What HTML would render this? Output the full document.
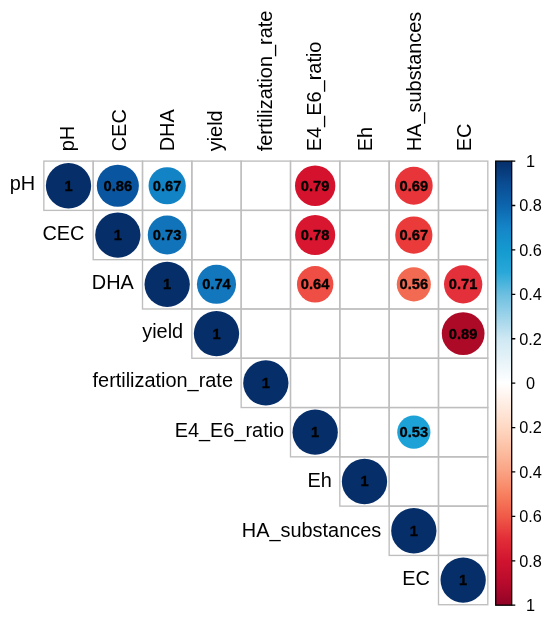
<!DOCTYPE html><html><head><meta charset="utf-8"><style>html,body{margin:0;padding:0;background:#fff;}svg{display:block;filter:blur(0.4px);}text{font-family:"Liberation Sans",Arial,sans-serif;}</style></head><body>
<svg width="550" height="621" viewBox="0 0 550 621">
<rect width="550" height="621" fill="#fff"/>
<defs><linearGradient id="cb" x1="0" y1="0" x2="0" y2="1">
<stop offset="0.0%" stop-color="#062E69"/>
<stop offset="5.0%" stop-color="#0A4C92"/>
<stop offset="10.0%" stop-color="#0C65AD"/>
<stop offset="15.0%" stop-color="#1585C8"/>
<stop offset="20.0%" stop-color="#149ACF"/>
<stop offset="25.0%" stop-color="#28A8D8"/>
<stop offset="30.0%" stop-color="#6CBFE0"/>
<stop offset="40.0%" stop-color="#CFE8F3"/>
<stop offset="50.0%" stop-color="#FFFFFF"/>
<stop offset="60.0%" stop-color="#FED8C3"/>
<stop offset="65.0%" stop-color="#FCBFA2"/>
<stop offset="70.0%" stop-color="#FAA283"/>
<stop offset="75.0%" stop-color="#F7805F"/>
<stop offset="80.0%" stop-color="#F05A48"/>
<stop offset="85.0%" stop-color="#E32E38"/>
<stop offset="90.0%" stop-color="#D0142F"/>
<stop offset="95.0%" stop-color="#B80A2C"/>
<stop offset="100.0%" stop-color="#900326"/>
</linearGradient></defs>
<g fill="none" stroke="#BEBEBE" stroke-width="1.35"><rect x="43.85" y="161.10" width="49.33" height="49.29"/><rect x="93.18" y="161.10" width="49.33" height="49.29"/><rect x="142.51" y="161.10" width="49.33" height="49.29"/><rect x="191.84" y="161.10" width="49.33" height="49.29"/><rect x="241.17" y="161.10" width="49.33" height="49.29"/><rect x="290.50" y="161.10" width="49.33" height="49.29"/><rect x="339.83" y="161.10" width="49.33" height="49.29"/><rect x="389.16" y="161.10" width="49.33" height="49.29"/><rect x="438.49" y="161.10" width="49.33" height="49.29"/><rect x="93.18" y="210.39" width="49.33" height="49.29"/><rect x="142.51" y="210.39" width="49.33" height="49.29"/><rect x="191.84" y="210.39" width="49.33" height="49.29"/><rect x="241.17" y="210.39" width="49.33" height="49.29"/><rect x="290.50" y="210.39" width="49.33" height="49.29"/><rect x="339.83" y="210.39" width="49.33" height="49.29"/><rect x="389.16" y="210.39" width="49.33" height="49.29"/><rect x="438.49" y="210.39" width="49.33" height="49.29"/><rect x="142.51" y="259.68" width="49.33" height="49.29"/><rect x="191.84" y="259.68" width="49.33" height="49.29"/><rect x="241.17" y="259.68" width="49.33" height="49.29"/><rect x="290.50" y="259.68" width="49.33" height="49.29"/><rect x="339.83" y="259.68" width="49.33" height="49.29"/><rect x="389.16" y="259.68" width="49.33" height="49.29"/><rect x="438.49" y="259.68" width="49.33" height="49.29"/><rect x="191.84" y="308.97" width="49.33" height="49.29"/><rect x="241.17" y="308.97" width="49.33" height="49.29"/><rect x="290.50" y="308.97" width="49.33" height="49.29"/><rect x="339.83" y="308.97" width="49.33" height="49.29"/><rect x="389.16" y="308.97" width="49.33" height="49.29"/><rect x="438.49" y="308.97" width="49.33" height="49.29"/><rect x="241.17" y="358.26" width="49.33" height="49.29"/><rect x="290.50" y="358.26" width="49.33" height="49.29"/><rect x="339.83" y="358.26" width="49.33" height="49.29"/><rect x="389.16" y="358.26" width="49.33" height="49.29"/><rect x="438.49" y="358.26" width="49.33" height="49.29"/><rect x="290.50" y="407.55" width="49.33" height="49.29"/><rect x="339.83" y="407.55" width="49.33" height="49.29"/><rect x="389.16" y="407.55" width="49.33" height="49.29"/><rect x="438.49" y="407.55" width="49.33" height="49.29"/><rect x="339.83" y="456.84" width="49.33" height="49.29"/><rect x="389.16" y="456.84" width="49.33" height="49.29"/><rect x="438.49" y="456.84" width="49.33" height="49.29"/><rect x="389.16" y="506.13" width="49.33" height="49.29"/><rect x="438.49" y="506.13" width="49.33" height="49.29"/><rect x="438.49" y="555.42" width="49.33" height="49.29"/></g>
<circle cx="68.52" cy="185.75" r="22.65" fill="#062E69"/>
<circle cx="117.84" cy="185.75" r="21.04" fill="#0A559F"/>
<circle cx="167.17" cy="185.75" r="18.62" fill="#1283C5"/>
<circle cx="315.17" cy="185.75" r="20.18" fill="#D5122D"/>
<circle cx="413.82" cy="185.75" r="18.89" fill="#E8353A"/>
<circle cx="117.84" cy="235.03" r="22.65" fill="#062E69"/>
<circle cx="167.17" cy="235.03" r="19.42" fill="#1174BA"/>
<circle cx="315.17" cy="235.03" r="20.06" fill="#D8162F"/>
<circle cx="413.82" cy="235.03" r="18.62" fill="#EA3B3A"/>
<circle cx="167.17" cy="284.32" r="22.65" fill="#062E69"/>
<circle cx="216.50" cy="284.32" r="19.55" fill="#1277BD"/>
<circle cx="315.17" cy="284.32" r="18.21" fill="#EE4E44"/>
<circle cx="413.82" cy="284.32" r="17.06" fill="#F26A52"/>
<circle cx="463.16" cy="284.32" r="19.15" fill="#E3303A"/>
<circle cx="216.50" cy="333.62" r="22.65" fill="#062E69"/>
<circle cx="463.16" cy="333.62" r="21.39" fill="#AC0A27"/>
<circle cx="265.83" cy="382.90" r="22.65" fill="#062E69"/>
<circle cx="315.17" cy="432.19" r="22.65" fill="#062E69"/>
<circle cx="413.82" cy="432.19" r="16.61" fill="#1DA2D8"/>
<circle cx="364.50" cy="481.49" r="22.65" fill="#062E69"/>
<circle cx="413.82" cy="530.77" r="22.65" fill="#062E69"/>
<circle cx="463.16" cy="580.06" r="22.65" fill="#062E69"/>
<g font-size="14.7" font-weight="bold" text-anchor="middle" fill="#000" stroke="#000" stroke-width="0.3"><text x="68.52" y="190.65">1</text><text x="117.84" y="190.65">0.86</text><text x="167.17" y="190.65">0.67</text><text x="315.17" y="190.65">0.79</text><text x="413.82" y="190.65">0.69</text><text x="117.84" y="239.94">1</text><text x="167.17" y="239.94">0.73</text><text x="315.17" y="239.94">0.78</text><text x="413.82" y="239.94">0.67</text><text x="167.17" y="289.22">1</text><text x="216.50" y="289.22">0.74</text><text x="315.17" y="289.22">0.64</text><text x="413.82" y="289.22">0.56</text><text x="463.16" y="289.22">0.71</text><text x="216.50" y="338.51">1</text><text x="463.16" y="338.51">0.89</text><text x="265.83" y="387.80">1</text><text x="315.17" y="437.09">1</text><text x="413.82" y="437.09">0.53</text><text x="364.50" y="486.38">1</text><text x="413.82" y="535.67">1</text><text x="463.16" y="584.96">1</text></g>
<g font-size="19.9" text-anchor="end" fill="#000"><text x="35.15" y="189.80">pH</text><text x="84.48" y="239.90">CEC</text><text x="133.81" y="289.20">DHA</text><text x="183.14" y="338.40">yield</text><text x="232.97" y="387.30">fertilization_rate</text><text x="284.20" y="437.30">E4_E6_ratio</text><text x="331.83" y="486.80">Eh</text><text x="381.16" y="537.10">HA_substances</text><text x="429.79" y="584.70">EC</text></g>
<g font-size="19.95" text-anchor="start" fill="#000"><text transform="translate(74.00 151.30) rotate(-90)">pH</text><text transform="translate(125.90 151.30) rotate(-90)">CEC</text><text transform="translate(174.40 151.30) rotate(-90)">DHA</text><text transform="translate(221.60 151.30) rotate(-90)">yield</text><text transform="translate(271.80 151.30) rotate(-90)">fertilization_rate</text><text transform="translate(321.30 151.30) rotate(-90)">E4_E6_ratio</text><text transform="translate(371.50 151.30) rotate(-90)">Eh</text><text transform="translate(420.50 151.30) rotate(-90)">HA_substances</text><text transform="translate(470.80 151.30) rotate(-90)">EC</text></g>
<rect x="495.70" y="161.10" width="16.00" height="444.10" fill="url(#cb)" stroke="#000" stroke-width="1.3"/>
<path d="M511.70 161.10H515.30M511.70 205.51H515.30M511.70 249.92H515.30M511.70 294.33H515.30M511.70 338.74H515.30M511.70 383.15H515.30M511.70 427.56H515.30M511.70 471.97H515.30M511.70 516.38H515.30M511.70 560.79H515.30M511.70 605.20H515.30" stroke="#000" stroke-width="1.3" fill="none"/>
<g font-size="16.3" text-anchor="middle" fill="#000"><text x="530.5" y="166.90">1</text><text x="530.5" y="211.31">0.8</text><text x="530.5" y="255.72">0.6</text><text x="530.5" y="300.13">0.4</text><text x="530.5" y="344.54">0.2</text><text x="530.5" y="388.95">0</text><text x="530.5" y="433.36">0.2</text><text x="530.5" y="477.77">0.4</text><text x="530.5" y="522.18">0.6</text><text x="530.5" y="566.59">0.8</text><text x="530.5" y="611.00">1</text></g>
</svg></body></html>
